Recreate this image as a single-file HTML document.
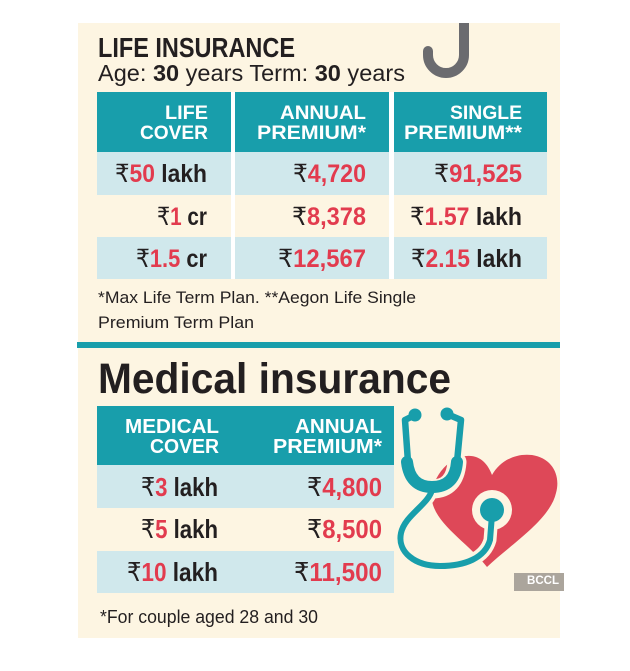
<!DOCTYPE html>
<html><head><meta charset="utf-8">
<style>
html,body{margin:0;padding:0;background:#fff;}
svg{display:block;}
text{font-family:"Liberation Sans Narrow","Liberation Sans","DejaVu Sans",sans-serif;}
.b{font-weight:bold;}
.r{fill:#e23b4e;font-weight:bold;}
.k{fill:#231f20;}
.h{fill:#fff;font-weight:bold;}
</style></head>
<body>
<svg width="630" height="671" viewBox="0 0 630 671" xmlns="http://www.w3.org/2000/svg">
  <!-- cream background -->
  <rect x="78" y="23" width="482" height="615" fill="#fdf5e2"/>

  <!-- hook -->
  <path d="M464 18 L464 55 A18 18 0 0 1 428 55 L428 51" fill="none" stroke="#6b6b6f" stroke-width="10" stroke-linecap="round"/>
  <rect x="455" y="13" width="20" height="10" fill="#fff"/>

  <!-- title -->
  <text x="98" y="57" font-size="28" class="b k" textLength="197" lengthAdjust="spacingAndGlyphs">LIFE INSURANCE</text>
  <text x="98" y="81" font-size="23.5" class="k" textLength="307" lengthAdjust="spacingAndGlyphs">Age: <tspan class="b">30</tspan> years Term: <tspan class="b">30</tspan> years</text>

  <!-- table 1 -->
  <rect x="97" y="92" width="450" height="60" fill="#189eab"/>
  <rect x="97" y="152" width="450" height="43" fill="#d0e8ec"/>
  <rect x="97" y="237" width="450" height="42" fill="#d0e8ec"/>
  <rect x="231" y="92" width="4" height="187" fill="#fff"/>
  <rect x="389" y="92" width="5" height="187" fill="#fff"/>

  <text x="165" y="119" font-size="19" class="h" textLength="43" lengthAdjust="spacingAndGlyphs">LIFE</text>
  <text x="140" y="139" font-size="19" class="h" textLength="68" lengthAdjust="spacingAndGlyphs">COVER</text>
  <text x="280" y="119" font-size="19" class="h" textLength="86" lengthAdjust="spacingAndGlyphs">ANNUAL</text>
  <text x="257" y="139" font-size="19" class="h" textLength="109" lengthAdjust="spacingAndGlyphs">PREMIUM*</text>
  <text x="450" y="119" font-size="19" class="h" textLength="72" lengthAdjust="spacingAndGlyphs">SINGLE</text>
  <text x="404" y="139" font-size="19" class="h" textLength="118" lengthAdjust="spacingAndGlyphs">PREMIUM**</text>

  <text x="115" y="182" font-size="25" class="k" textLength="92" lengthAdjust="spacingAndGlyphs">₹<tspan class="r">50</tspan><tspan class="b"> lakh</tspan></text>
  <text x="293" y="182" font-size="25" class="k" textLength="73" lengthAdjust="spacingAndGlyphs">₹<tspan class="r">4,720</tspan></text>
  <text x="434" y="182" font-size="25" class="k" textLength="88" lengthAdjust="spacingAndGlyphs">₹<tspan class="r">91,525</tspan></text>

  <text x="157" y="225" font-size="25" class="k" textLength="50" lengthAdjust="spacingAndGlyphs">₹<tspan class="r">1</tspan><tspan class="b"> cr</tspan></text>
  <text x="292" y="225" font-size="25" class="k" textLength="74" lengthAdjust="spacingAndGlyphs">₹<tspan class="r">8,378</tspan></text>
  <text x="410" y="225" font-size="25" class="k" textLength="112" lengthAdjust="spacingAndGlyphs">₹<tspan class="r">1.57</tspan><tspan class="b"> lakh</tspan></text>

  <text x="136" y="267" font-size="25" class="k" textLength="71" lengthAdjust="spacingAndGlyphs">₹<tspan class="r">1.5</tspan><tspan class="b"> cr</tspan></text>
  <text x="278" y="267" font-size="25" class="k" textLength="88" lengthAdjust="spacingAndGlyphs">₹<tspan class="r">12,567</tspan></text>
  <text x="411" y="267" font-size="25" class="k" textLength="111" lengthAdjust="spacingAndGlyphs">₹<tspan class="r">2.15</tspan><tspan class="b"> lakh</tspan></text>

  <text x="98" y="303" font-size="17" class="k" textLength="318" lengthAdjust="spacingAndGlyphs">*Max Life Term Plan. **Aegon Life Single</text>
  <text x="98" y="328" font-size="17" class="k" textLength="156" lengthAdjust="spacingAndGlyphs">Premium Term Plan</text>

  <!-- divider -->
  <rect x="77" y="342" width="483" height="6" fill="#189eab"/>

  <text x="98" y="393" font-size="43" class="b k" textLength="353" lengthAdjust="spacingAndGlyphs">Medical insurance</text>

  <!-- table 2 -->
  <rect x="97" y="406" width="297" height="59" fill="#189eab"/>
  <rect x="97" y="465" width="297" height="43" fill="#d0e8ec"/>
  <rect x="97" y="551" width="297" height="42" fill="#d0e8ec"/>

  <text x="125" y="433" font-size="20" class="h" textLength="94" lengthAdjust="spacingAndGlyphs">MEDICAL</text>
  <text x="150" y="453" font-size="20" class="h" textLength="69" lengthAdjust="spacingAndGlyphs">COVER</text>
  <text x="295" y="433" font-size="20" class="h" textLength="87" lengthAdjust="spacingAndGlyphs">ANNUAL</text>
  <text x="273" y="453" font-size="20" class="h" textLength="109" lengthAdjust="spacingAndGlyphs">PREMIUM*</text>

  <text x="141" y="496" font-size="26" class="k" textLength="77" lengthAdjust="spacingAndGlyphs">₹<tspan class="r">3</tspan><tspan class="b"> lakh</tspan></text>
  <text x="307" y="496" font-size="26" class="k" textLength="75" lengthAdjust="spacingAndGlyphs">₹<tspan class="r">4,800</tspan></text>
  <text x="141" y="538" font-size="26" class="k" textLength="77" lengthAdjust="spacingAndGlyphs">₹<tspan class="r">5</tspan><tspan class="b"> lakh</tspan></text>
  <text x="307" y="538" font-size="26" class="k" textLength="75" lengthAdjust="spacingAndGlyphs">₹<tspan class="r">8,500</tspan></text>
  <text x="127" y="581" font-size="26" class="k" textLength="91" lengthAdjust="spacingAndGlyphs">₹<tspan class="r">10</tspan><tspan class="b"> lakh</tspan></text>
  <text x="294" y="581" font-size="26" class="k" textLength="88" lengthAdjust="spacingAndGlyphs">₹<tspan class="r">11,500</tspan></text>

  <text x="100" y="623" font-size="18" class="k" textLength="218" lengthAdjust="spacingAndGlyphs">*For couple aged 28 and 30</text>

  <!-- heart -->
  <path d="M487,567 C470,545 440,527 433,505 C427,485 445,457 467,456 C480,455 488,464 492,475 C500,461 515,453 532,455 C552,458 561,475 556,493 C550,520 510,545 487,567 Z" fill="#de4858"/>

  <!-- stethoscope cream outline -->
  <g fill="none" stroke="#fdf5e2" stroke-linecap="round" stroke-linejoin="round">
    <path d="M407,462 Q410,489 432,489 Q455,489 457,462" stroke-width="19"/>
    <path d="M432,490 C428,505 405,515 401,533 C397,552 415,566 440,566 C465,566 485,558 490,540 L492,515" stroke-width="13"/>
  </g>
  <circle cx="492" cy="510" r="20" fill="#fdf5e2"/>

  <!-- stethoscope -->
  <g fill="none" stroke="#189eab" stroke-linecap="round" stroke-linejoin="round">
    <path d="M415,415 L405,420 L408,462 Q410,488 432,488 Q456,488 457,462 L461,420 L447,414" stroke-width="6.5"/>
    <path d="M407,462 Q410,487 432,487 Q455,487 457,462" stroke-width="12"/>
    <path d="M432,490 C428,505 405,515 401,533 C397,552 415,566 440,566 C465,566 485,558 490,540 L492,515" stroke-width="6"/>
  </g>
  <circle cx="415" cy="415" r="6.5" fill="#189eab"/>
  <circle cx="447" cy="414" r="6.5" fill="#189eab"/>
  <circle cx="492" cy="510" r="12" fill="#189eab"/>

  <!-- BCCL -->
  <rect x="514" y="573" width="50" height="18" fill="#aba59c"/>
  <text x="527" y="584" font-size="12" class="h" textLength="32" lengthAdjust="spacingAndGlyphs">BCCL</text>
</svg>
</body></html>
